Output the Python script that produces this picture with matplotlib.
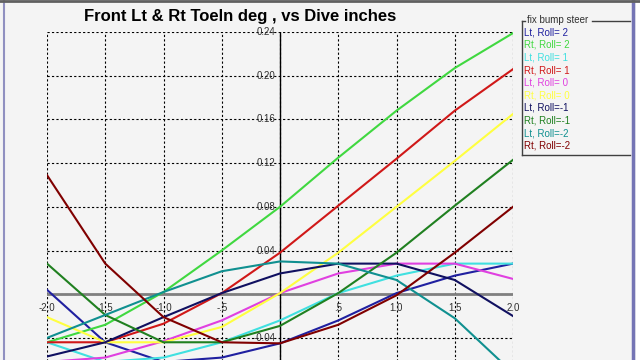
import numpy as np
import matplotlib
matplotlib.use('Agg')
import matplotlib.pyplot as plt
from matplotlib.lines import Line2D

## Data

dive = [-2.0, -1.5, -1.0, -0.5, 0.0, 0.5, 1.0, 1.5, 2.0]

lt_roll_p2 = [0.004, -0.044, -0.062, -0.058, -0.045, -0.024, 0.001, 0.017, 0.028]
rt_roll_p2 = [-0.044, -0.028, 0.002, 0.040, 0.080, 0.125, 0.168, 0.207, 0.239]
lt_roll_p1 = [-0.044, -0.062, -0.058, -0.044, -0.024, 0.001, 0.017, 0.028, 0.028]
rt_roll_p1 = [-0.044, -0.044, -0.027, 0.001, 0.038, 0.081, 0.124, 0.168, 0.206]
lt_roll_0 = [-0.062, -0.058, -0.043, -0.024, 0.001, 0.019, 0.028, 0.028, 0.014]
rt_roll_0 = [-0.021, -0.044, -0.044, -0.030, 0.001, 0.038, 0.080, 0.122, 0.165]
lt_roll_m1 = [-0.057, -0.044, -0.021, 0.001, 0.019, 0.028, 0.028, 0.013, -0.020]
rt_roll_m1 = [0.028, -0.019, -0.044, -0.044, -0.029, 0.001, 0.038, 0.081, 0.123]
lt_roll_m2 = [-0.040, -0.019, 0.002, 0.021, 0.030, 0.028, 0.013, -0.022, -0.072]
rt_roll_m2 = [0.109, 0.028, -0.021, -0.044, -0.045, -0.028, -0.001, 0.038, 0.080]

labels = ['Lt, Roll= 2', 'Rt, Roll= 2', 'Lt, Roll= 1', 'Rt, Roll= 1', 'Lt, Roll= 0',
          'Rt, Roll= 0', 'Lt, Roll=-1', 'Rt, Roll=-1', 'Lt, Roll=-2', 'Rt, Roll=-2']
series = [lt_roll_p2, rt_roll_p2, lt_roll_p1, rt_roll_p1, lt_roll_0,
          rt_roll_0, lt_roll_m1, rt_roll_m1, lt_roll_m2, rt_roll_m2]
colors = ['#2020a0', '#40d840', '#40e0e0', '#d01818', '#e040e0',
          '#ffff40', '#101060', '#208020', '#109090', '#800000']

yticks = [0.24, 0.20, 0.16, 0.12, 0.08, 0.04, -0.04]
ytick_labels = ['0.24', '0.20', '0.16', '0.12', '0.08', '0.04', '-0.04']
xticks = [-2.0, -1.5, -1.0, -0.5, 0.5, 1.0, 1.5, 2.0]
xtick_labels = ['-2.0', '-1.5', '-1.0', '-.5', '.5', '1.0', '1.5', '2.0']

## Plot

plt.rcParams['font.family'] = ['Liberation Sans', 'DejaVu Sans']
bg = '#f4f4f4'

fig = plt.figure(figsize=(6.4, 3.6), dpi=100, facecolor=bg)
# plot area runs off the bottom of the window, as in the screenshot
ax = fig.add_axes([47/640, -0.06, 466/640, 0.9711])
ax.set_facecolor(bg)
ax.set_xlim(-2.0, 2.0)
ax.set_ylim(-0.08, 0.24)
for s in ax.spines.values():
    s.set_visible(False)

ax.set_xticks(dive)
ax.set_yticks([0.24, 0.20, 0.16, 0.12, 0.08, 0.04, 0.0, -0.04, -0.08])
ax.tick_params(length=0, labelbottom=False, labelleft=False)
ax.grid(True, color='k', lw=0.8, linestyle=(0, (2, 2)))

ax.axhline(0, color='#808080', lw=2, zorder=2)
ax.axvline(0, color='k', lw=1, zorder=2)

for v, t in zip(yticks, ytick_labels):
    ax.annotate(t, xy=(0, v), xytext=(-3, 0), textcoords='offset points',
                ha='right', va='center', fontsize=7, color='#303030')
for v, t in zip(xticks, xtick_labels):
    ax.annotate(t, xy=(v, 0), xytext=(0, -10), textcoords='offset points',
                ha='center', va='center', fontsize=7, color='#303030')

for ys, c in zip(series, colors):
    ax.plot(dive, ys, color=c, lw=1.5, zorder=3)

fig.text(240/640, 1-16/360, 'Front Lt & Rt Toeln deg , vs Dive inches',
         ha='center', va='center', fontsize=12, fontweight='bold')

## Legend box (group box style)

def px(x, y):
    return x/640, 1 - y/360

frame = '#404040'
for (x0, y0), (x1, y1) in [((522, 21), (522, 155)), ((522, 155), (630, 155)),
                           ((592, 21), (630, 21)), ((522, 21), (525, 21))]:
    a, b = px(x0, y0)
    c, d = px(x1, y1)
    fig.add_artist(Line2D([a, c], [b, d], color=frame, lw=1))
fig.text(*px(527, 20), 'fix bump steer', ha='left', va='center', fontsize=7, color='#303030')
for i, (t, c) in enumerate(zip(labels, colors)):
    fig.text(*px(524, 32.3 + i*12.6), t, ha='left', va='center', fontsize=7, color=c)

# window borders
fig.add_artist(Line2D([633/640, 633/640], [0, 1], color='#7474b4', lw=2.5))
fig.add_artist(plt.Rectangle((636/640, 0), 4/640, 1, transform=fig.transFigure,
                             color='white', lw=0))
fig.add_artist(Line2D([4/640, 4/640], [0, 1], color='#9090c0', lw=1.5))
fig.add_artist(Line2D([0, 1], [1 - 1/360, 1 - 1/360], color='#606060', lw=2))

fig.savefig('out.png', dpi=100, facecolor=bg)
